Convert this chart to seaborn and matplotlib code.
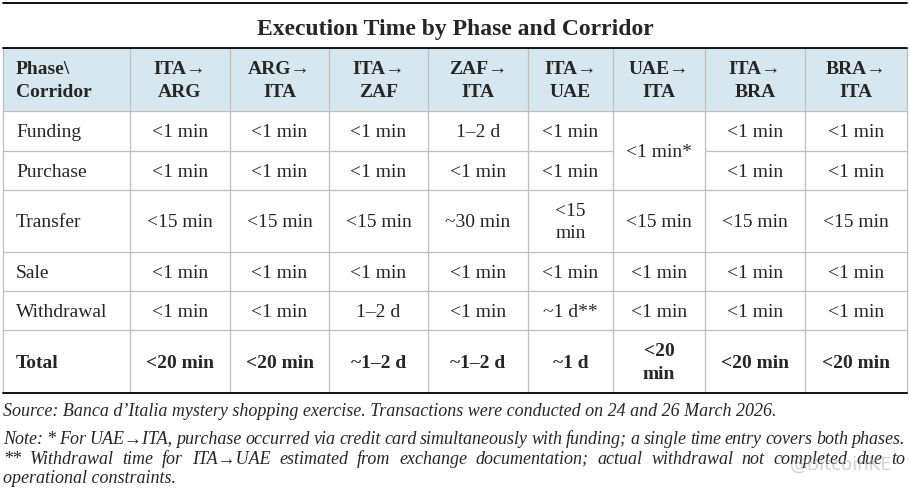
import matplotlib
matplotlib.use("Agg")
import matplotlib.pyplot as plt
from matplotlib.patches import Rectangle
import seaborn as sns
import pandas as pd

# table content
title = "Execution Time by Phase and Corridor"
corner = "Phase\\\nCorridor"
corridors = ["ITA→\nARG", "ARG→\nITA", "ITA→\nZAF", "ZAF→\nITA",
             "ITA→\nUAE", "UAE→\nITA", "ITA→\nBRA", "BRA→\nITA"]
phases = ["Funding", "Purchase", "Transfer", "Sale", "Withdrawal", "Total"]

funding = ["<1 min", "<1 min", "<1 min", "1–2 d", "<1 min", "<1 min*", "<1 min", "<1 min"]
purchase = ["<1 min", "<1 min", "<1 min", "<1 min", "<1 min", None, "<1 min", "<1 min"]
transfer = ["<15 min", "<15 min", "<15 min", "~30 min", "<15\nmin", "<15 min", "<15 min", "<15 min"]
sale = ["<1 min", "<1 min", "<1 min", "<1 min", "<1 min", "<1 min", "<1 min", "<1 min"]
withdrawal = ["<1 min", "<1 min", "1–2 d", "<1 min", "~1 d**", "<1 min", "<1 min", "<1 min"]
total = ["<20 min", "<20 min", "~1–2 d", "~1–2 d", "~1 d", "<20\nmin", "<20 min", "<20 min"]

source_note = ("Source: Banca d’Italia mystery shopping exercise. "
               "Transactions were conducted on 24 and 26 March 2026.")
note_lines = [
    "Note: * For UAE→ITA, purchase occurred via credit card simultaneously with funding; "
    "a single time entry covers both phases.",
    "** Withdrawal time for ITA→UAE estimated from exchange documentation; "
    "actual withdrawal not completed due to",
    "operational constraints.",
]
watermark = "@BitcoinKE"

df = pd.DataFrame([funding, purchase, transfer, sale, withdrawal, total],
                  index=phases, columns=corridors)

# layout in pixels
col_edges = [3, 130, 230, 329, 428, 528, 613, 705, 805, 907]
row_edges = [48, 111, 151, 190, 252, 291, 330, 393]
merged = {("Purchase", "UAE→\nITA"): ("Funding", "UAE→\nITA")}

sns.set_theme(style="white")
serif = ["Liberation Serif", "DejaVu Serif"]
plt.rcParams["font.family"] = serif

grid_c = "#BFBFBF"
head_c = "#D6E7EF"
fs = 14
lsp = 1.4
dy = 1.5  # nudge text down a little so glyphs sit centred

fig = plt.figure(figsize=(9.1, 4.9), dpi=100)
ax = fig.add_axes([0, 0, 1, 1])
ax.set_xlim(0, 910)
ax.set_ylim(490, 0)
ax.axis("off")

# header background
ax.add_patch(Rectangle((col_edges[0], row_edges[0]), col_edges[-1] - col_edges[0],
                       row_edges[1] - row_edges[0], facecolor=head_c, edgecolor="none", zorder=0))

# grid lines (skip the line inside the merged cell)
for j in range(len(col_edges) - 1):
    for i in range(1, len(row_edges) - 2):
        y = row_edges[i + 1]
        if j >= 1 and (phases[i], corridors[j - 1]) in merged:
            continue
        ax.plot([col_edges[j], col_edges[j + 1]], [y, y], color=grid_c, lw=0.9, zorder=1)
ax.plot([col_edges[0], col_edges[-1]], [row_edges[1], row_edges[1]], color=grid_c, lw=0.9, zorder=1)
for x in col_edges:
    ax.plot([x, x], [row_edges[0], row_edges[-1]], color=grid_c, lw=0.9, zorder=1)

# black rules
ax.plot([3, 907], [3, 3], color="black", lw=1.3, zorder=3)
ax.plot([3, 907], [row_edges[0], row_edges[0]], color="black", lw=1.3, zorder=3)
ax.plot([3, 907], [row_edges[-1], row_edges[-1]], color="black", lw=1.3, zorder=3)

ax.text(455, 29.5, title, ha="center", va="center", fontsize=17, fontweight="bold")

# header row
hy = (row_edges[0] + row_edges[1]) / 2 + dy
ax.text(16, hy, corner, ha="left", va="center", fontsize=fs, fontweight="bold",
        linespacing=lsp)
for j, c in enumerate(corridors):
    cx = (col_edges[j + 1] + col_edges[j + 2]) / 2
    ax.text(cx, hy, c, ha="center", va="center", fontsize=fs, fontweight="bold",
            multialignment="center", linespacing=lsp)

# body rows
for i, ph in enumerate(phases):
    y0, y1 = row_edges[i + 1], row_edges[i + 2]
    weight = "bold" if ph == "Total" else "normal"
    ax.text(16, (y0 + y1) / 2 + dy, ph, ha="left", va="center", fontsize=fs, fontweight=weight)
    for j, c in enumerate(corridors):
        val = df.loc[ph, c]
        if val is None:
            continue
        cx = (col_edges[j + 1] + col_edges[j + 2]) / 2
        cy = (y0 + y1) / 2 + dy
        if i + 1 < len(phases) and (phases[i + 1], c) in merged:
            cy = y1 + dy
        ax.text(cx, cy, val, ha="center", va="center", fontsize=fs, fontweight=weight,
                multialignment="center", linespacing=lsp)

# footnotes
fn_fs = 13
ax.text(3, 411, source_note, ha="left", va="center", fontsize=fn_fs, style="italic")

renderer = fig.canvas.get_renderer()


def justified(line, y, left=3, right=905):
    words = line.split(" ")
    arts = [ax.text(0, y, w, ha="left", va="center", fontsize=fn_fs, style="italic")
            for w in words]
    widths = [a.get_window_extent(renderer).width for a in arts]
    gap = (right - left - sum(widths)) / (len(words) - 1)
    x = left
    for a, w in zip(arts, widths):
        a.set_x(x)
        x += w + gap


justified(note_lines[0], 439)
justified(note_lines[1], 459)
ax.text(3, 478, note_lines[2], ha="left", va="center", fontsize=fn_fs, style="italic")

ax.text(790, 465, watermark, ha="left", va="center", fontsize=13, color="#a8a8a8",
        alpha=0.5, family="DejaVu Sans", zorder=5)

fig.savefig("out.png", dpi=100, facecolor="white")
